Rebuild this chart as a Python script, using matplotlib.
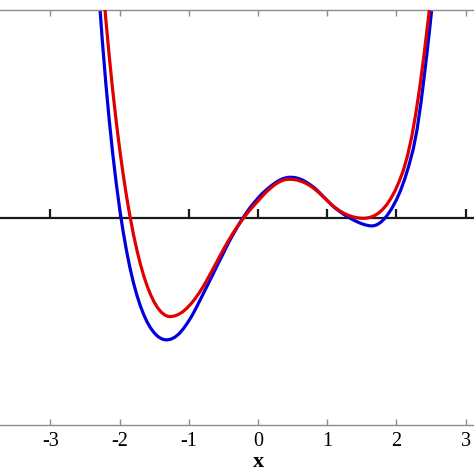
import matplotlib
matplotlib.use("Agg")
import matplotlib.pyplot as plt

# values (x in axis units, y with the zero line at 0)
blue_x = [-2.31, -2.30, -2.25, -2.20, -2.15, -2.10, -2.05, -2.00, -1.95, -1.90,
          -1.85, -1.80, -1.75, -1.70, -1.65, -1.60, -1.55, -1.50, -1.45, -1.40,
          -1.36, -1.32, -1.26, -1.20, -1.14, -1.08, -1.02, -0.96, -0.90, -0.84,
          -0.78, -0.72, -0.66, -0.60, -0.54, -0.48, -0.42, -0.36, -0.30, -0.24,
          -0.18, -0.12, -0.06, 0.00, 0.06, 0.12, 0.18, 0.24, 0.30, 0.36,
          0.42, 0.46, 0.52, 0.58, 0.64, 0.70, 0.76, 0.82, 0.88, 0.94,
          1.00, 1.06, 1.12, 1.18, 1.24, 1.30, 1.36, 1.42, 1.48, 1.54,
          1.60, 1.64, 1.68, 1.72, 1.77, 1.82, 1.87, 1.93, 2.00, 2.06,
          2.12, 2.18, 2.245, 2.30, 2.355, 2.40, 2.44, 2.48, 2.515, 2.54]
blue_y = [3.39, 3.245, 2.56, 1.95, 1.41, 0.93, 0.505, 0.131, -0.196, -0.481,
          -0.729, -0.942, -1.124, -1.279, -1.408, -1.515, -1.601, -1.668, -1.718, -1.750,
          -1.765, -1.770, -1.760, -1.730, -1.680, -1.610, -1.525, -1.43, -1.32, -1.20,
          -1.08, -0.96, -0.84, -0.715, -0.595, -0.475, -0.355, -0.245, -0.14, -0.04,
          0.05, 0.135, 0.21, 0.28, 0.345, 0.40, 0.45, 0.495, 0.533, 0.562,
          0.578, 0.582, 0.579, 0.566, 0.543, 0.51, 0.47, 0.425, 0.368, 0.306,
          0.245, 0.185, 0.132, 0.087, 0.045, 0.008, -0.026, -0.056, -0.083, -0.104,
          -0.118, -0.122, -0.118, -0.104, -0.072, -0.025, 0.035, 0.125, 0.255, 0.39,
          0.555, 0.75, 0.995, 1.28, 1.66, 2.02, 2.36, 2.72, 3.05, 3.30]

red_x = [-2.24, -2.23, -2.20, -2.15, -2.10, -2.05, -2.00, -1.95, -1.90, -1.85,
         -1.80, -1.75, -1.70, -1.65, -1.60, -1.55, -1.50, -1.45, -1.40, -1.35,
         -1.31, -1.27, -1.21, -1.15, -1.09, -1.03, -0.97, -0.91, -0.85, -0.79,
         -0.73, -0.67, -0.61, -0.55, -0.49, -0.43, -0.37, -0.31, -0.25, -0.19,
         -0.13, -0.07, -0.01, 0.05, 0.11, 0.17, 0.23, 0.29, 0.35, 0.41,
         0.46, 0.52, 0.58, 0.64, 0.70, 0.76, 0.82, 0.88, 0.94, 1.00,
         1.06, 1.12, 1.18, 1.24, 1.30, 1.36, 1.42, 1.48, 1.52, 1.56,
         1.62, 1.68, 1.74, 1.80, 1.86, 1.92, 1.98, 2.04, 2.10, 2.16,
         2.22, 2.28, 2.34, 2.40, 2.45, 2.48, 2.51]
red_y = [3.35, 3.225, 2.876, 2.336, 1.844, 1.398, 0.996, 0.633, 0.307, 0.016,
         -0.244, -0.472, -0.673, -0.847, -0.996, -1.121, -1.224, -1.306, -1.368, -1.408,
         -1.427, -1.433, -1.425, -1.402, -1.365, -1.313, -1.25, -1.175, -1.09, -0.995,
         -0.89, -0.78, -0.668, -0.555, -0.445, -0.34, -0.24, -0.148, -0.063, 0.017,
         0.092, 0.162, 0.228, 0.295, 0.36, 0.415, 0.465, 0.505, 0.535, 0.55,
         0.553, 0.549, 0.537, 0.517, 0.49, 0.455, 0.41, 0.36, 0.303, 0.246,
         0.19, 0.14, 0.097, 0.062, 0.034, 0.013, -0.002, -0.01, -0.012, -0.01,
         0.002, 0.025, 0.062, 0.115, 0.185, 0.275, 0.385, 0.52, 0.68, 0.89,
         1.16, 1.50, 1.90, 2.36, 2.78, 3.04, 3.32]

x_ticks = [-3, -2, -1, 0, 1, 2, 3]
x_tick_labels = ["-3", "-2", "-1", "0", "1", "2", "3"]

W = 474
fig = plt.figure(figsize=(4.74, 4.74), dpi=100)

# axes box: top spine at 10 px, bottom at 425 px, x=0 at 258 px, 69.2 px per unit
ax = fig.add_axes([0, 1 - 425 / W, 1, 415 / W])
ax.set_xlim((0 - 258) / 69.2, (W - 258) / 69.2)
ax.set_ylim(-3, 3)

ax.plot(red_x, red_y, color="#e00000", lw=2.3, solid_joinstyle="round", zorder=3)
ax.plot(blue_x, blue_y, color="#0000dd", lw=2.3, solid_joinstyle="round", zorder=2)

# zero line with small ticks
ax.axhline(0, color="#1a1a1a", lw=1.6, zorder=1)
ax.vlines(x_ticks, 0, 0.12, color="#1a1a1a", lw=1.6, zorder=1)

for side in ["left", "right"]:
    ax.spines[side].set_visible(False)
for side in ["top", "bottom"]:
    ax.spines[side].set_color("#8c8c8c")
    ax.spines[side].set_linewidth(1.0)

ax.set_yticks([])
ax.set_xticks(x_ticks)
ax.set_xticklabels(x_tick_labels)
ax.tick_params(axis="x", direction="in", top=True, bottom=True, length=4,
               width=1.0, color="#8c8c8c", pad=5, labelsize=14.5)
for lab in ax.get_xticklabels():
    lab.set_family("Liberation Serif")

# axis label kept just inside the bottom edge
fig.text(258 / W, 1 - 467 / W, "x", ha="center", va="baseline",
         family="Liberation Serif", fontweight="bold", fontsize=16)

fig.savefig("out.png", dpi=100)
